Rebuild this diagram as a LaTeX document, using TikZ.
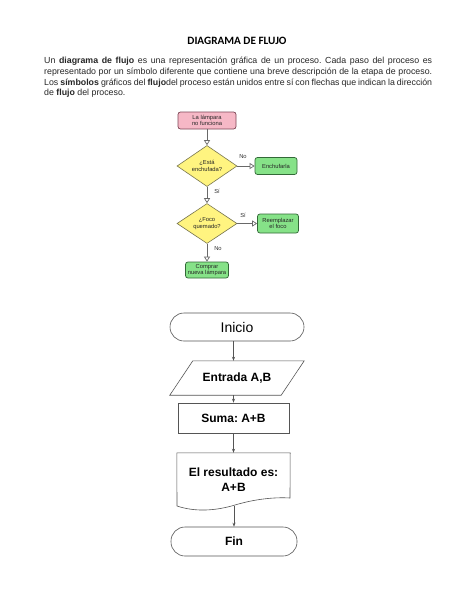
\documentclass[tikz,border=0pt]{standalone}
\usepackage{fontspec}
\setmainfont{Liberation Sans}
\newfontfamily\titulofont{Carlito}
\usetikzlibrary{arrows.meta,shapes.geometric}
\frenchspacing

\definecolor{rosa}{RGB}{246,184,198}
\definecolor{rosaborde}{RGB}{125,70,85}
\definecolor{amarillo}{RGB}{255,244,128}
\definecolor{amarilloborde}{RGB}{120,118,80}
\definecolor{verde}{RGB}{134,226,136}
\definecolor{verdeborde}{RGB}{50,105,55}
\definecolor{gris}{RGB}{105,105,105}
\definecolor{trazo}{RGB}{85,85,85}

\tikzset{
    chica/.style={font=\fontsize{5.8}{6.4}\selectfont,text=black!85,
        align=center,inner sep=0pt},
    cajarosa/.style={chica,draw=rosaborde,fill=rosa,rounded corners=2.5pt,
        line width=0.7pt},
    cajaverde/.style={chica,draw=verdeborde,fill=verde,rounded corners=2.5pt,
        line width=0.7pt},
    rombo/.style={chica,diamond,draw=amarilloborde,fill=amarillo,
        minimum width=60pt,minimum height=40pt,line width=0.6pt},
    flechita/.style={draw=gris,line width=0.7pt,
        -{Triangle[fill=white,length=5pt,width=6pt]}},
    etiqueta/.style={font=\fontsize{5.8}{6}\selectfont,text=black!80,
        inner sep=0pt},
    grande/.style={font=\bfseries\fontsize{12}{15}\selectfont,align=center,
        inner sep=0pt},
    terminal/.style={grande,draw=trazo,line width=0.6pt,rounded corners=14pt},
    flecha/.style={draw=trazo,line width=0.6pt,-{Stealth[length=4pt,width=3pt]}}
}

\begin{document}
\begin{tikzpicture}[x=1pt,y=-1pt]
    \fill[white] (0,0) rectangle (474,613);
    \useasboundingbox (0,0) rectangle (474,613);

    \node[font=\titulofont\bfseries\fontsize{11.2}{13}\selectfont] (titulo)
        at (237,40.5) {DIAGRAMA DE FLUJO};
    \node[anchor=north west,inner sep=0pt,text width=388pt,align=justify,
        font=\fontsize{8.8}{10.7}\selectfont,text=black!85] (parrafo)
        at (44,57)
        {Un \textbf{diagrama de flujo} es una representación gráfica de un
         proceso. Cada paso del proceso es\linebreak
         representado por un símbolo diferente que contiene una breve
         descripción de la etapa de proceso.\linebreak
         Los \textbf{símbolos} gráficos del \textbf{flujo}del proceso están
         unidos entre sí con flechas que indican la dirección\linebreak
         de \textbf{flujo} del proceso.};

    \node[cajarosa,minimum width=58pt,minimum height=17pt] (lampara)
        at (207,120.5) {La lámpara\\no funciona};
    \node[rombo] (enchufada) at (207,166) {¿Está\\enchufada?};
    \node[cajaverde,minimum width=42pt,minimum height=17pt] (enchufarla)
        at (276,166) {Enchufarla};
    \node[rombo] (quemado) at (207,223.5) {¿Foco\\quemado?};
    \node[cajaverde,minimum width=41pt,minimum height=19pt] (reemplazar)
        at (278,223.5) {Reemplazar\\el foco};
    \node[cajaverde,minimum width=43pt,minimum height=16pt] (comprar)
        at (207,270) {Comprar\\nueva lámpara};

    \draw[flechita] (lampara) -- (enchufada);
    \draw[flechita] (enchufada) -- (enchufarla);
    \draw[flechita] (enchufada) -- (quemado);
    \draw[flechita] (quemado) -- (reemplazar);
    \draw[flechita] (quemado) -- (comprar);

    \node[etiqueta] (no1) at (243,157) {No};
    \node[etiqueta] (si1) at (217,191) {Sí};
    \node[etiqueta] (si2) at (243,215) {Sí};
    \node[etiqueta] (no2) at (218,249) {No};

    \node[terminal,font=\fontsize{14}{16}\selectfont,minimum width=134pt,
        minimum height=28pt] (inicio) at (237,327) {Inicio};
    \node[grande,minimum width=134pt,minimum height=34pt] (entrada)
        at (237,378) {Entrada A,B};
    \draw[trazo,line width=0.6pt] (entrada.south west)
        -- ([xshift=23pt]entrada.north west) -- (entrada.north east)
        -- ([xshift=-23pt]entrada.south east) -- cycle;
    \node[grande,draw=trazo,line width=0.6pt,minimum width=111pt,
        minimum height=30pt] (suma) at (233.5,418) {Suma: A+B};
    \node[grande,minimum width=113pt,minimum height=53pt] (resultado)
        at (233.5,479.5) {El resultado es:\\A+B};
    \draw[trazo,line width=0.6pt] (resultado.north west)
        -- (resultado.north east) -- (290,498)
        .. controls (275,497) and (255,499) .. (235,505)
        .. controls (215,511) and (195,512) .. (177,506) -- cycle;
    \coordinate (fondodoc) at (234,505.5);
    \node[terminal,minimum width=126pt,minimum height=29pt] (fin)
        at (234,541.5) {Fin};

    \draw[flecha] (inicio.south -| suma.north) -- (entrada.north -| suma.north);
    \draw[flecha] (entrada.south -| suma.north) -- (suma.north);
    \draw[flecha] (suma.south) -- (resultado.north);
    \draw[flecha] (fondodoc) -- (fin.north -| fondodoc);
\end{tikzpicture}
\end{document}
